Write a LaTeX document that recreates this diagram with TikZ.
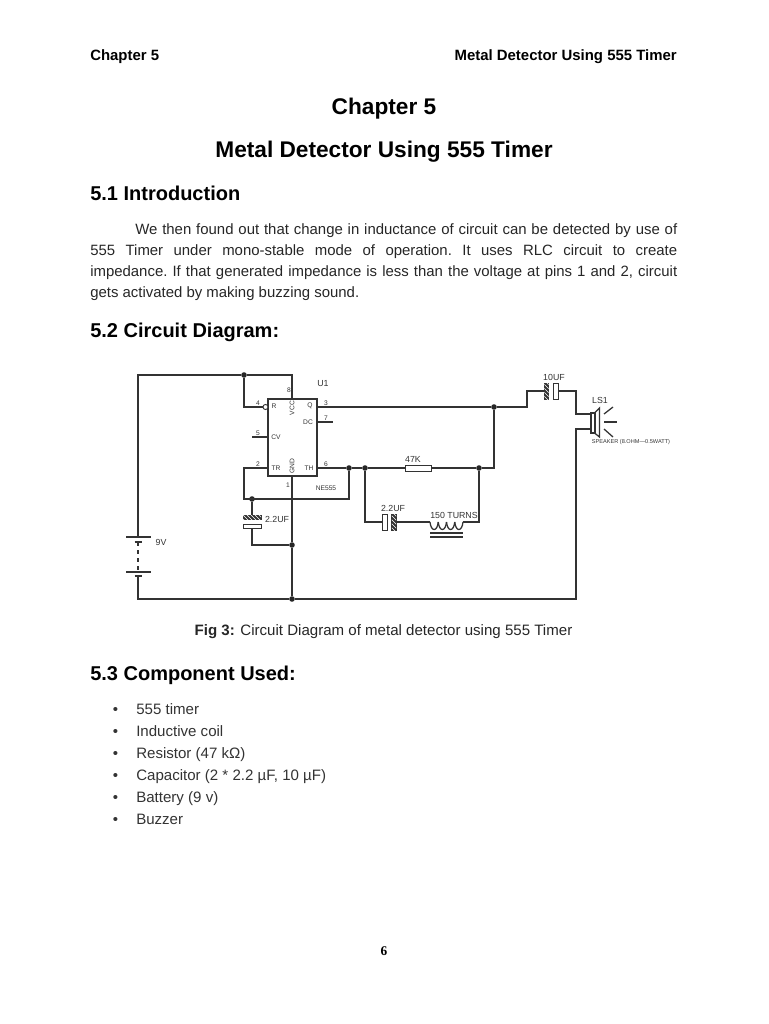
\documentclass[tikz,border=0pt]{standalone}
\usepackage{fontspec}
\setmainfont{Liberation Sans}
\usetikzlibrary{patterns}
\newfontfamily\numfont{Liberation Serif}
\tikzset{
  wire/.style={line width=0.95pt,color=black!80},
  dot/.style={circle,fill=black!85,inner sep=0pt,minimum size=4.2pt},
  plate/.style={draw=black!80,line width=0.6pt,fill=white,inner sep=0pt},
  hplate/.style={plate,minimum width=13.5pt,minimum height=3pt},
  vplate/.style={plate,minimum width=3.2pt,minimum height=12pt},
  hatch/.style={fill=black!80,postaction={pattern=north west lines,pattern color=white}},
  pin/.style={font=\fontsize{5}{6}\selectfont,inner sep=0pt,text=black!80},
  part/.style={font=\fontsize{6.6}{8}\selectfont,inner sep=0pt,text=black!80},
  heading/.style={anchor=base west,inner sep=0pt,font=\fontsize{15}{18}\bfseries\selectfont},
  title/.style={anchor=base,inner sep=0pt,font=\fontsize{17}{20}\bfseries\selectfont},
  running/.style={inner sep=0pt,font=\fontsize{11.2}{13}\bfseries\selectfont},
  listitem/.style={anchor=base west,inner sep=0pt,text=black!80,font=\fontsize{11.3}{13}\selectfont}
}
\begin{document}
\begin{tikzpicture}[x=0.75pt,y=-0.75pt]
        \useasboundingbox (0,0) rectangle (768,1024);
        \node[running,anchor=base west] (headl) at (90,61) {Chapter 5};
        \node[running,anchor=base east] (headr) at (677,61) {Metal Detector Using 555 Timer};
        \node[title] (chap) at (384,114) {Chapter 5};
        \node[title] (name) at (384,157) {Metal Detector Using 555 Timer};
        \node[heading] (sec1) at (90,200) {5.1 Introduction};
        \node[anchor=north west,inner sep=0pt,text=black!85,text width=440.25pt,align=justify,font=\frenchspacing\fontsize{11.2}{15.75}\selectfont] (intro) at (90,223) {\hspace*{33.75pt}We then found out that change in inductance of circuit can be detected by use of\linebreak 555 Timer under mono-stable mode of operation. It uses RLC circuit to create\linebreak impedance. If that generated impedance is less than the voltage at pins 1 and 2, circuit\linebreak gets activated by making buzzing sound.};
        \node[heading] (sec2) at (90,337) {5.2 Circuit Diagram:};

        \node[draw=black!80,line width=0.95pt,fill=white,inner sep=0pt,minimum width=36.75pt,minimum height=57.75pt] (u1) at (292.5,437.5) {};
        \node[dot] (jtop) at (244,375) {};
        \node[dot] (jout) at (494,407) {};
        \node[dot] (jth) at (349,468) {};
        \node[dot] (jrc) at (365,468) {};
        \node[dot] (jcoil) at (479,468) {};
        \node[dot] (jtr) at (252,499) {};
        \node[dot] (jcap) at (292,545) {};
        \node[dot] (jgnd) at (292,599) {};
        \coordinate (ctl) at (138,375);
        \coordinate (cbl) at (138,599);
        \coordinate (cbr) at (576,599);
        \coordinate (cvcc) at (292,375);
        \coordinate (cvccin) at (292,399);
        \coordinate (cgndin) at (292,476);
        \coordinate (crst) at (263,407);
        \coordinate (cq) at (317,407);
        \coordinate (cdc) at (317,422);
        \coordinate (cdcend) at (333,422);
        \coordinate (ccv) at (268,437);
        \coordinate (ccvend) at (252,437);
        \coordinate (ctr) at (268,468);
        \coordinate (cth) at (317,468);
        \coordinate (ctrl) at (244,499);
        \coordinate (cstep) at (527,391);
        \coordinate (cturn) at (494,468);
        \coordinate (cspk) at (576,391);
        \coordinate (cspkb) at (576,429);
        \node[circle,draw=black!80,line width=0.7pt,fill=white,inner sep=0pt,minimum size=3.8pt] (rbub) at (265.5,407) {};

        \node[hplate,hatch] (c1a) at (252,517) {};
        \node[hplate] (c1b) at (252,526) {};
        \node[vplate,hatch] (c2a) at (546.5,391) {};
        \node[vplate] (c2b) at (556,391) {};
        \node[vplate] (c3a) at (385,522) {};
        \node[vplate,hatch] (c3b) at (394,522) {};
        \node[plate,minimum width=19.5pt,minimum height=4.5pt] (r47) at (418,468) {};
        \coordinate (lin) at (430,522);
        \coordinate (lout) at (463,522);
        \coordinate (cl) at (479,522);

        \node[plate,line width=0.8pt,minimum width=3pt,minimum height=15pt] (spk) at (593,423) {};
        \coordinate (cone1) at (594.5,413);
        \coordinate (cone2) at (599.5,408);
        \coordinate (cone3) at (599.5,437);
        \coordinate (cone4) at (594.5,433);
        \coordinate (spkin) at (591.5,414);
        \coordinate (spkout) at (591.5,429);
        \coordinate (ray1a) at (604,414);
        \coordinate (ray1b) at (613,407);
        \coordinate (ray2a) at (604,422);
        \coordinate (ray2b) at (617,422);
        \coordinate (ray3a) at (604,429);
        \coordinate (ray3b) at (613,437);

        \coordinate (bt1) at (138,537);
        \coordinate (bt2) at (138,542);
        \coordinate (bt3) at (138,572);
        \coordinate (bt4) at (138,576);
        \coordinate (bl1) at (126,537);
        \coordinate (br1) at (151,537);
        \coordinate (bl2) at (134.5,542);
        \coordinate (br2) at (142,542);
        \coordinate (bl3) at (126,572);
        \coordinate (br3) at (151,572);
        \coordinate (bl4) at (134.5,576);
        \coordinate (br4) at (142,576);

        \draw[wire] (bt1) to (ctl) to (jtop) to (cvcc) to (cvccin);
        \draw[wire] (jtop) |- (crst);
        \draw[wire] (bt4) to (cbl) to (jgnd) to (cbr) to (cspkb) to (spkout);
        \draw[wire] (cgndin) to (jcap) to (jgnd);
        \draw[wire] (cq) to (jout) -| (cstep) to (c2a);
        \draw[wire] (c2b) to (cspk) |- (spkin);
        \draw[wire] (jout) to (cturn) to (jcoil) to (r47) to (jrc) to (jth) to (cth);
        \draw[wire] (cdc) to (cdcend);
        \draw[wire] (ccv) to (ccvend);
        \draw[wire] (jth) |- (ctrl) |- (ctr);
        \draw[wire] (jtr) to (c1a);
        \draw[wire] (c1b) |- (jcap);
        \draw[wire] (jrc) |- (c3a);
        \draw[wire] (c3b) to (lin);
        \draw[wire] (lout) to (cl) to (jcoil);
        \foreach \k in {0,...,3}
          \draw[wire] ({430+8.25*\k},522) .. controls ({431+8.25*\k},532) and ({437.25+8.25*\k},532) .. ({438.25+8.25*\k},522);
        \draw[wire] (430,533) to (463,533);
        \draw[wire] (430,537) to (463,537);

        \draw[wire] (cone1) to (cone2) to (cone3) to (cone4);
        \draw[wire] (ray1a) to (ray1b);
        \draw[wire] (ray2a) to (ray2b);
        \draw[wire] (ray3a) to (ray3b);

        \draw[wire] (bl1) to (br1);
        \draw[wire] (bl2) to (br2);
        \draw[wire,dashed] (bt2) to (bt3);
        \draw[wire] (bl3) to (br3);
        \draw[wire] (bl4) to (br4);

        \node[part] (lu1) at (323,384) {U1};
        \node[pin] (lne) at (326,488) {NE555};
        \node[part] (lc1) at (277,519) {2.2UF};
        \node[part] (lc2) at (554,377) {10UF};
        \node[part] (lc3) at (393,508) {2.2UF};
        \node[part] (lr) at (413,459) {47K};
        \node[part] (ll) at (454,515) {150 TURNS};
        \node[part] (lls) at (600,400) {LS1};
        \node[part] (lv) at (161,542) {9V};
        \node[pin,font=\fontsize{4.2}{5}\selectfont] (lsp) at (631,442) {SPEAKER (8.OHM---0.5WATT)};
        \node[pin] (tr) at (274,406) {R};
        \node[pin] (tq) at (310,406) {Q};
        \node[pin] (tdc) at (308,422) {DC};
        \node[pin] (tcv) at (276,437) {CV};
        \node[pin] (ttr) at (276,468) {TR};
        \node[pin] (tth) at (309,468) {TH};
        \node[pin,rotate=90] (tvcc) at (292,408) {VCC};
        \node[pin,rotate=90] (tgnd) at (292,466) {GND};
        \node[pin] (p4) at (258,403) {4};
        \node[pin] (p3) at (326,403) {3};
        \node[pin] (p7) at (326,418) {7};
        \node[pin] (p5) at (258,433) {5};
        \node[pin] (p2) at (258,464) {2};
        \node[pin] (p6) at (326,464) {6};
        \node[pin] (p8) at (289,390) {8};
        \node[pin] (p1) at (288,485) {1};

        \node[anchor=base,inner sep=0pt,text=black!85,font=\fontsize{11.3}{13}\selectfont] (fig) at (383.5,635) {\textbf{Fig 3:} Circuit Diagram of metal detector using 555 Timer};
        \node[heading] (sec3) at (90,680) {5.3 Component Used:};
        \foreach \txt [count=\n] in {555 timer,Inductive coil,Resistor (47 kΩ),{Capacitor (2 * 2.2 µF, 10 µF)},Battery (9 v),Buzzer}
          \node[listitem] (item\n) at (136,{693+21.9*\n}) {\llap{\textbullet\hspace{13.5pt}}\txt};
        \node[inner sep=0pt,font=\fontsize{10}{12}\bfseries\numfont] (pagenum) at (384,951) {6};
\end{tikzpicture}
\end{document}
